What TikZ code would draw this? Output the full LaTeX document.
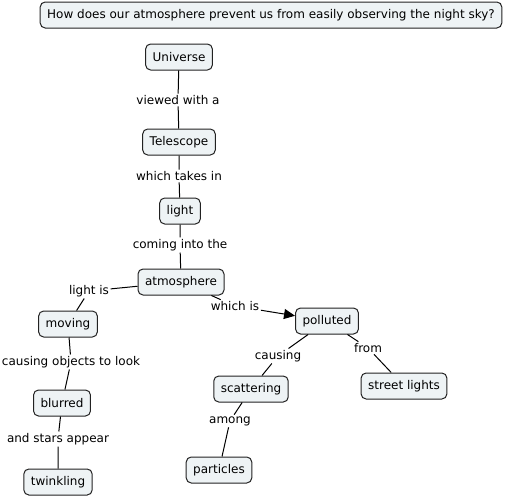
\documentclass[tikz,border=0pt]{standalone}
\usepackage{fontspec}
\setmainfont{DejaVu Sans}
\usetikzlibrary{arrows.meta}
\definecolor{boxfill}{HTML}{EEF3F5}
\definecolor{boxline}{HTML}{222222}
\begin{document}
\begin{tikzpicture}[x=1pt,y=-1pt,
  concept/.style={draw=boxline,fill=boxfill,rounded corners=5pt,line width=1pt,
    minimum height=26pt,inner xsep=7pt,inner ysep=2pt,font=\fontsize{12}{14}\selectfont},
  linklabel/.style={inner sep=1.5pt,font=\fontsize{12}{14}\selectfont},
  conn/.style={draw=black,line width=1pt}]
\useasboundingbox (0,0) rectangle (507,498);
\node[concept] (title) at (271,15) {How does our atmosphere prevent us from easily observing the night sky?};
\node[concept] (universe) at (179,57) {Universe};
\node[linklabel] (l1) at (178,100) {viewed with a};
\node[concept] (telescope) at (179,142) {Telescope};
\node[linklabel] (l2) at (179,176) {which takes in};
\node[concept] (light) at (180,211) {light};
\node[linklabel] (l3) at (180,245) {coming into the};
\node[concept] (atmo) at (181,282) {atmosphere};
\node[linklabel] (l4) at (89,291) {light is};
\node[concept] (moving) at (68,324) {moving};
\node[linklabel] (l5) at (71,362) {causing objects to look};
\node[concept] (blurred) at (62,403) {blurred};
\node[linklabel] (l6) at (58,439) {and stars appear};
\node[concept] (twinkling) at (58,482) {twinkling};
\node[linklabel] (l7) at (235,306) {which is};
\node[concept] (polluted) at (327,321) {polluted};
\node[linklabel] (l8) at (278,356) {causing};
\node[concept] (scattering) at (251,389) {scattering};
\node[linklabel] (l9) at (368,348) {from};
\node[concept] (street) at (404,386) {street lights};
\node[linklabel] (l10) at (230,421) {among};
\node[concept] (particles) at (219,470) {particles};
\draw[conn] (universe) -- (l1) -- (telescope);
\draw[conn] (telescope) -- (l2) -- (light);
\draw[conn] (light) -- (l3) -- (atmo);
\draw[conn] (atmo) -- (l4) -- (moving);
\draw[conn] (moving) -- (l5) -- (blurred);
\draw[conn] (blurred) -- (l6) -- (twinkling);
\draw[conn] (atmo) -- (l7);
\draw[conn,-{Triangle[length=11pt,width=10pt]}] (l7) -- (polluted);
\draw[conn] (polluted) -- (l8) -- (scattering);
\draw[conn] (polluted) -- (l9) -- (street);
\draw[conn] (scattering) -- (l10) -- (particles);
\end{tikzpicture}
\end{document}
